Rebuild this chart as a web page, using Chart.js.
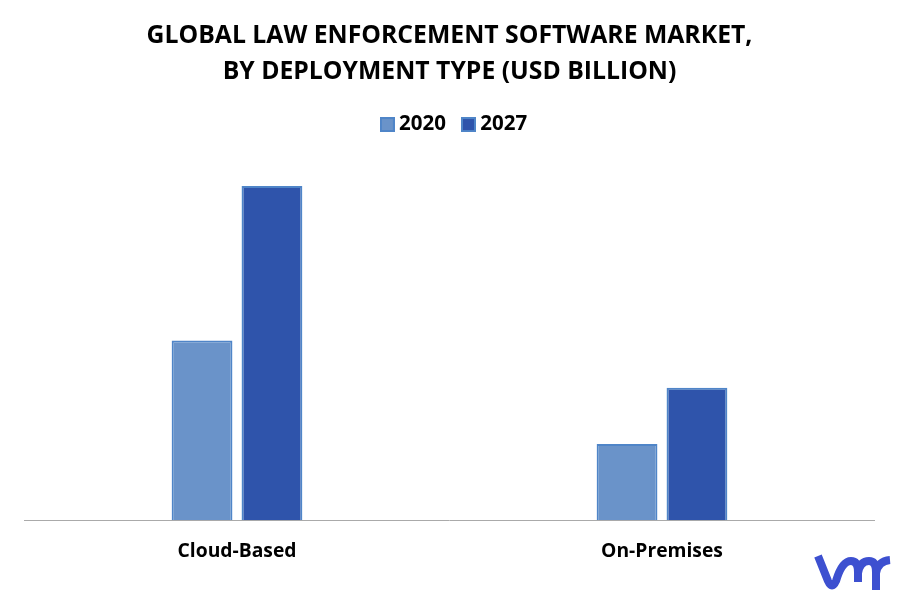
<!DOCTYPE html>
<html>
<head>
<meta charset="utf-8">
<style>
  html, body { margin: 0; padding: 0; background: #fff; }
</style>
<script src="https://cdn.jsdelivr.net/npm/chart.js@4"></script>
</head>
<body>
<canvas id="myChart" width="897" height="593"></canvas>
<script>
const categories = ["Cloud-Based", "On-Premises"];
const values2020 = [1.79, 0.76];
const values2027 = [3.33, 1.32];
const titleLines = ["GLOBAL LAW ENFORCEMENT SOFTWARE MARKET,", "BY DEPLOYMENT TYPE (USD BILLION)"];
const fillColors = ["#6a93c9", "#2f54ab"];
const edgeColor = "#4f85c8";

// small square for the legend, the built in box leaves too big a gap to the text
function swatch(color) {
  const c = document.createElement("canvas");
  c.width = 15;
  c.height = 15;
  const g = c.getContext("2d");
  g.fillStyle = color;
  g.fillRect(0, 0, 15, 15);
  g.strokeStyle = edgeColor;
  g.lineWidth = 2;
  g.strokeRect(1, 1, 13, 13);
  return c;
}
const swatches = fillColors.map(swatch);

// legend sits a bit right of centre in the original
const legendShift = {
  id: "legendShift",
  afterLayout(chart) {
    chart.legend.left += 7;
    chart.legend.right += 7;
  }
};

// the vm logo in the bottom right corner
const logo = {
  id: "logo",
  afterDraw(chart) {
    const ctx = chart.ctx;
    ctx.save();
    ctx.strokeStyle = "#3d50d0";
    ctx.lineWidth = 8;
    ctx.lineJoin = "round";
    ctx.lineCap = "butt";
    ctx.beginPath();
    ctx.moveTo(818, 556);
    ctx.lineTo(828, 581);
    ctx.quadraticCurveTo(832, 590, 836, 581);
    ctx.quadraticCurveTo(842, 561, 851, 561);
    ctx.quadraticCurveTo(858, 561, 858, 572);
    ctx.lineTo(858, 582);
    ctx.stroke();
    ctx.beginPath();
    ctx.moveTo(858, 573);
    ctx.quadraticCurveTo(860, 561, 869, 561);
    ctx.quadraticCurveTo(876, 561, 876, 572);
    ctx.lineTo(876, 590);
    ctx.stroke();
    ctx.beginPath();
    ctx.moveTo(876, 573);
    ctx.quadraticCurveTo(878, 561, 890, 560);
    ctx.stroke();
    ctx.restore();
  }
};

new Chart("myChart", {
  type: "bar",
  data: {
    labels: categories,
    datasets: [
      {
        label: "2020",
        data: values2020,
        backgroundColor: fillColors[0],
        borderColor: edgeColor,
        borderWidth: 2,
        categoryPercentage: 0.329,
        barPercentage: 0.87
      },
      {
        label: "2027",
        data: values2027,
        backgroundColor: fillColors[1],
        borderColor: edgeColor,
        borderWidth: 2,
        categoryPercentage: 0.329,
        barPercentage: 0.87
      }
    ]
  },
  options: {
    responsive: false,
    animation: false,
    layout: { padding: { left: 24.5, right: 22.5, top: 18, bottom: 9.5 } },
    plugins: {
      title: {
        display: true,
        text: titleLines,
        color: "#000",
        font: { family: "Open Sans", size: 24.75, weight: "bold", lineHeight: 1.44 },
        padding: { top: 0, bottom: 4 }
      },
      legend: {
        labels: {
          color: "#000",
          usePointStyle: true,
          pointStyleWidth: 3,
          padding: 21,
          font: { family: "Open Sans", size: 20.5, weight: "bold" },
          generateLabels(chart) {
            const items = Chart.defaults.plugins.legend.labels.generateLabels(chart);
            items.forEach((item, i) => { item.pointStyle = swatches[i]; });
            return items;
          }
        }
      },
      tooltip: { enabled: false }
    },
    scales: {
      x: {
        grid: { display: false, drawTicks: false },
        border: { color: "#aaaaaa", width: 1 },
        ticks: {
          color: "#000",
          padding: 20,
          font: { family: "Open Sans", size: 19.3, weight: "bold" }
        }
      },
      y: {
        display: false,
        min: 0,
        max: 3.74
      }
    }
  },
  plugins: [legendShift, logo]
});
</script>
</body>
</html>
